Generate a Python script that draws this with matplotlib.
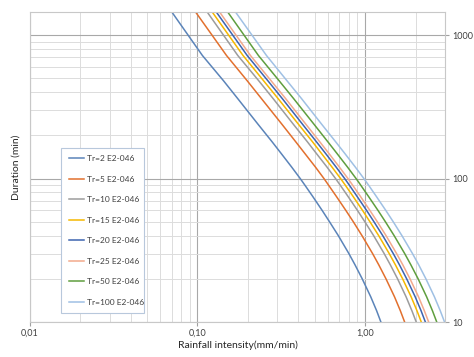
import matplotlib
matplotlib.use('Agg')
import matplotlib.pyplot as plt
from matplotlib.ticker import FixedLocator, FixedFormatter, LogLocator, NullFormatter

plt.rcParams['font.family'] = ['Lato', 'DejaVu Sans']

# durations (min)
durations = [10, 12, 15, 20, 25, 30, 40, 50, 60, 75, 90, 100,
             120, 150, 180, 240, 360, 480, 720, 1440]

# rainfall intensity (mm/min) per return period
tr2 = [1.242, 1.171, 1.080, 0.961, 0.871, 0.800, 0.692, 0.613, 0.554, 0.487, 0.437, 0.410,
       0.365, 0.315, 0.279, 0.229, 0.174, 0.143, 0.107, 0.0705]
tr5 = [1.721, 1.622, 1.497, 1.332, 1.207, 1.108, 0.958, 0.850, 0.767, 0.674, 0.605, 0.568,
       0.506, 0.436, 0.386, 0.318, 0.241, 0.198, 0.149, 0.0977]
tr10 = [2.018, 1.901, 1.755, 1.562, 1.415, 1.299, 1.124, 0.996, 0.900, 0.791, 0.710, 0.666,
        0.593, 0.511, 0.453, 0.372, 0.283, 0.232, 0.174, 0.1146]
tr15 = [2.163, 2.038, 1.881, 1.674, 1.517, 1.392, 1.205, 1.068, 0.965, 0.848, 0.761, 0.714,
        0.635, 0.548, 0.486, 0.399, 0.303, 0.248, 0.187, 0.1228]
tr20 = [2.288, 2.156, 1.989, 1.770, 1.604, 1.472, 1.274, 1.129, 1.020, 0.896, 0.805, 0.755,
        0.672, 0.580, 0.513, 0.422, 0.321, 0.263, 0.198, 0.1299]
tr25 = [2.394, 2.255, 2.082, 1.853, 1.679, 1.541, 1.333, 1.182, 1.067, 0.938, 0.842, 0.790,
        0.703, 0.607, 0.537, 0.442, 0.336, 0.275, 0.207, 0.1359]
tr50 = [2.675, 2.521, 2.327, 2.071, 1.876, 1.722, 1.490, 1.321, 1.193, 1.048, 0.941, 0.883,
        0.786, 0.678, 0.600, 0.494, 0.375, 0.307, 0.231, 0.1519]
tr100 = [2.978, 2.806, 2.590, 2.305, 2.089, 1.917, 1.658, 1.471, 1.328, 1.167, 1.048, 0.983,
         0.875, 0.755, 0.668, 0.549, 0.418, 0.342, 0.258, 0.1691]

series = [tr2, tr5, tr10, tr15, tr20, tr25, tr50, tr100]
labels = ['Tr=2 E2-046', 'Tr=5 E2-046', 'Tr=10 E2-046', 'Tr=15 E2-046',
          'Tr=20 E2-046', 'Tr=25 E2-046', 'Tr=50 E2-046', 'Tr=100 E2-046']
colors = ['#5b84b9', '#e2702e', '#9c9c9c', '#f5b800',
          '#3d64b0', '#f3a98c', '#5f9e3e', '#9fc0e4']

x_ticks = [0.01, 0.1, 1.0]
x_ticklabels = ['0,01', '0,10', '1,00']
y_ticks = [10, 100, 1000]
y_ticklabels = ['10', '100', '1000']

fig = plt.figure(figsize=(4.74, 3.57), dpi=100)
ax = fig.add_axes([0.063, 0.098, 0.876, 0.8675])

for vals, lab, col in zip(series, labels, colors):
    ax.plot(vals, durations, color=col, lw=1.1, label=lab)

ax.set_xscale('log')
ax.set_yscale('log')
ax.set_xlim(0.01, 3)
ax.set_ylim(10, 1440)

ax.xaxis.set_major_locator(FixedLocator(x_ticks))
ax.xaxis.set_major_formatter(FixedFormatter(x_ticklabels))
ax.xaxis.set_minor_locator(LogLocator(base=10, subs=range(2, 10)))
ax.xaxis.set_minor_formatter(NullFormatter())
ax.yaxis.set_major_locator(FixedLocator(y_ticks))
ax.yaxis.set_major_formatter(FixedFormatter(y_ticklabels))
ax.yaxis.set_minor_locator(LogLocator(base=10, subs=range(2, 10)))
ax.yaxis.set_minor_formatter(NullFormatter())

ax.yaxis.tick_right()
ax.tick_params(axis='both', which='major', length=3, color='#a0a0a0',
               labelsize=6.5, labelcolor='#404040', pad=2)
ax.tick_params(axis='both', which='minor', length=0)

ax.grid(True, which='major', color='#a8a8a8', lw=0.8)
ax.grid(True, which='minor', color='#dcdcdc', lw=0.7)
ax.set_axisbelow(True)
for sp in ax.spines.values():
    sp.set_color('#c8c8c8')
    sp.set_linewidth(0.8)

ax.set_xlabel('Rainfall intensity(mm/min)', fontsize=7.5, color='#262626', labelpad=2)
ax.set_ylabel('Duration (min)', fontsize=7.5, color='#262626', labelpad=7)
ax.yaxis.set_label_position('left')

leg = ax.legend(loc='lower left', bbox_to_anchor=(0.075, 0.028, 0.2, 0.53),
                mode='expand', fontsize=6.0, frameon=True, fancybox=False,
                edgecolor='#b8c8dc', framealpha=1, handlelength=1.9,
                handletextpad=0.3, labelspacing=1.62, borderpad=0.9,
                borderaxespad=0)
leg.get_frame().set_linewidth(0.8)
for t in leg.get_texts():
    t.set_color('#404040')

fig.savefig('out.png', dpi=100)
